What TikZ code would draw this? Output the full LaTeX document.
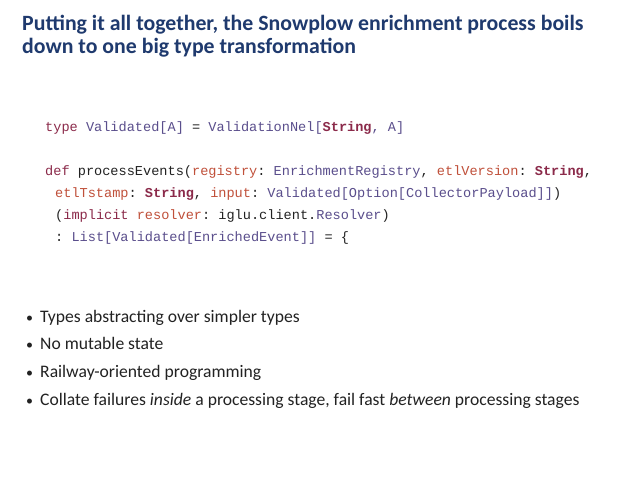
\documentclass[tikz,border=0pt]{standalone}
\usepackage{fontspec}
\setmainfont{Carlito}
\setmonofont{Liberation Mono}
\usepackage{xcolor}
\definecolor{titleblue}{HTML}{1F3A6E}
\definecolor{kw}{HTML}{8B2A4A}
\definecolor{ty}{HTML}{5A4E8C}
\definecolor{pn}{HTML}{C0503A}
\definecolor{tx}{HTML}{222222}
\newcommand{\K}[1]{\textcolor{kw}{#1}}
\newcommand{\T}[1]{\textcolor{ty}{#1}}
\newcommand{\Pn}[1]{\textcolor{pn}{#1}}
\newcommand{\Sg}[1]{\textcolor{kw}{\bfseries #1}}
\begin{document}
\begin{tikzpicture}[x=1pt,y=1pt,
  title/.style={anchor=base west,inner sep=0,font=\fontsize{21.8}{24}\selectfont\bfseries,text=titleblue},
  code/.style={anchor=base west,inner sep=0,font=\fontsize{13.6}{15}\ttfamily,text=tx},
  bul/.style={anchor=base west,inner sep=0,font=\fontsize{17.6}{20}\selectfont,text=tx}]
\useasboundingbox[fill=white] (0,0) rectangle (638,-478);
\node[title] (t1) at (22,-31) {Putting it all together, the Snowplow enrichment process boils};
\node[title] (t2) at (22,-54) {down to one big type transformation};
\node[code] (c1) at (45,-132) {\K{type} \T{Validated[A]} = \T{ValidationNel[}\Sg{String}\T{, A]}};
\node[code] (c2) at (45,-176) {\K{def} processEvents(\Pn{registry}: \T{EnrichmentRegistry}, \Pn{etlVersion}: \Sg{String},};
\node[code] (c3) at (55,-198) {\Pn{etlTstamp}: \Sg{String}, \Pn{input}: \T{Validated[Option[CollectorPayload]]})};
\node[code] (c4) at (55,-220) {(\K{implicit} \Pn{resolver}: iglu.client.\T{Resolver})};
\node[code] (c5) at (55,-242) {: \T{List[Validated[EnrichedEvent]]} = \{};
\foreach \y/\n/\s in {323/b1/{Types abstracting over simpler types},350/b2/{No mutable state},378/b3/{Railway-oriented programming},406/b4/{Collate failures \textit{inside} a processing stage, fail fast \textit{between} processing stages}}{
  \node[bul,font=\fontsize{14}{16}\selectfont] (\n d) at (26,-\y) {•};
  \node[bul] (\n) at (40,-\y) {\s};
}
\end{tikzpicture}
\end{document}
